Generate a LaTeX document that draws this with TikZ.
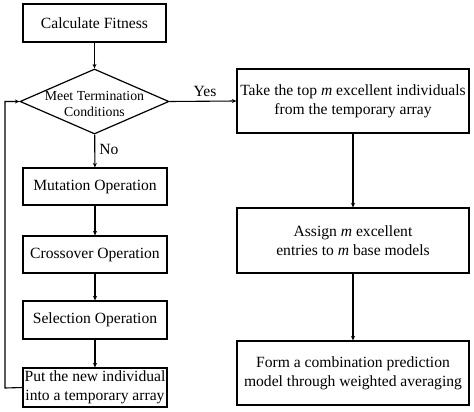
\documentclass[tikz,border=0pt]{standalone}
\usepackage{fontspec}
\setmainfont{Liberation Serif}
\usetikzlibrary{shapes.geometric,arrows.meta}
\begin{document}
\begin{tikzpicture}[x=1pt,y=-1pt,
  box/.style={draw,line width=1.2pt,rectangle,inner sep=0pt,align=center,
    font=\fontsize{15.6}{19}\selectfont},
  lbl/.style={font=\fontsize{15.6}{18}\selectfont,inner sep=0pt},
  arr/.style={line width=1.1pt,-{Stealth[length=4.5pt,width=4pt]}}]
\useasboundingbox (0,0) rectangle (474,412);
\node[box,minimum width=143pt,minimum height=38pt] (fit) at (94.5,23) {Calculate Fitness};
\node[draw,line width=1.2pt,diamond,minimum width=149pt,minimum height=65pt,inner sep=0pt] (cond) at (94.5,101.5) {};
\node[align=center,inner sep=0pt,font=\fontsize{13.8}{15.5}\selectfont] (condtxt) at (94.5,104) {Meet Termination\\Conditions};
\node[box,minimum width=144pt,minimum height=37pt] (mut) at (95,186.5) {Mutation Operation};
\node[box,minimum width=144pt,minimum height=37pt] (cross) at (95,254.5) {Crossover Operation};
\node[box,minimum width=144pt,minimum height=38pt] (sel) at (95,320) {Selection Operation};
\node[box,minimum width=144pt,minimum height=39pt] (put) at (95,387.5) {Put the new individual\\into a temporary array};
\node[box,minimum width=232pt,minimum height=64pt] (take) at (353,101) {Take the top \textit{m} excellent individuals\\from the temporary array};
\node[box,minimum width=232pt,minimum height=65pt] (assign) at (353,240.5) {Assign \textit{m} excellent\\entries to \textit{m} base models};
\node[box,minimum width=232pt,minimum height=64pt] (form) at (353,373) {Form a combination prediction\\model through weighted averaging};
\coordinate (lb) at (5,388);
\coordinate (lt) at (5,101.5);
\draw[arr] (fit) -- (cond);
\draw[arr] (cond) -- (mut);
\node[lbl] (no) at (109,149) {No};
\draw[arr] (mut) -- (cross);
\draw[arr] (cross) -- (sel);
\draw[arr] (sel) -- (put);
\draw[arr] (put.west) -- (lb) -- (lt) -- (cond.west);
\draw[arr] (cond.east) -- (take.west);
\node[lbl] (yes) at (205,91) {Yes};
\draw[arr] (take) -- (assign);
\draw[arr] (assign) -- (form);
\end{tikzpicture}
\end{document}
